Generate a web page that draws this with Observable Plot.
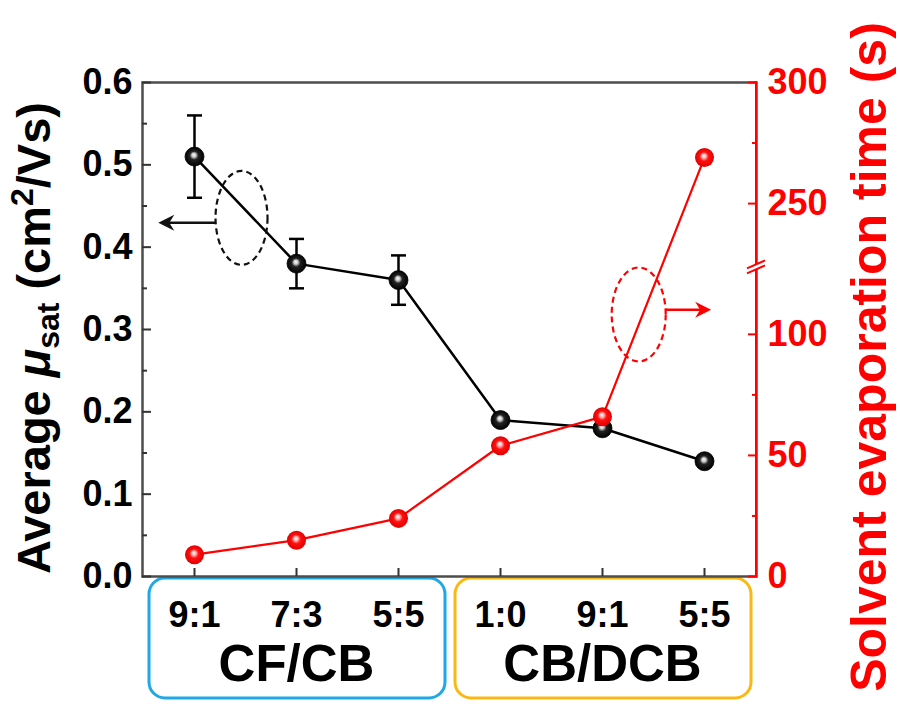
<!DOCTYPE html>
<html><head><meta charset="utf-8">
<script src="https://cdn.jsdelivr.net/npm/d3@7"></script>
<script src="https://cdn.jsdelivr.net/npm/@observablehq/plot@0.6"></script>
<style>
body{margin:0;background:#fff;}
#wrap{position:relative;width:900px;height:711px;overflow:hidden;background:#fff;}
#wrap svg{position:absolute;left:0;top:0;}
</style></head><body><div id="wrap"></div>
<script>
// ---- data ----
const ratios = ["9:1","7:3","5:5","1:0","9:1","5:5"];
const solvents = ["CF/CB","CF/CB","CF/CB","CB/DCB","CB/DCB","CB/DCB"];
const mobility = [0.51,0.38,0.36,0.19,0.18,0.14];
const mobilityErr = [0.05,0.03,0.03,0,0,0];
const evapTime = [9,15,24,54,66,269];
const leftTicks = [0,0.1,0.2,0.3,0.4,0.5,0.6];
const leftMinor = [0.05,0.15,0.25,0.35,0.45,0.55];
const rightTicks = [0,50,100,250,300];
const rightMinor = [25,75,275];
const breakLow = 127, breakHigh = 223, timeMax = 300;
const groupNames = ["CF/CB","CB/DCB"];
const groupColors = ["#1fa8e4","#fbb812"];

// ---- layout ----
const W = 900, H = 711, mT = 82, mB = 135, mL = 142, mR = 144;
const FONT = "'Liberation Sans', Arial, Helvetica, sans-serif";

const cats = ratios.map((r,i) => `${solvents[i]} ${r}`);
const rows = cats.map((c,i) => ({cat:c, ratio:ratios[i], solvent:solvents[i], mu:mobility[i], err:mobilityErr[i], t:evapTime[i]}));
const errRows = rows.filter(d => d.err > 0);
const groups = groupNames.map(g => {
  const cs = cats.filter((c,i) => solvents[i] === g);
  return {name:g, first:cs[0], last:cs[cs.length-1], mid:cs[Math.floor(cs.length/2)]};
});
const capSymbol = {draw(ctx, size){ const r = Math.sqrt(size/Math.PI); ctx.moveTo(-r,0); ctx.lineTo(r,0); }};

const base = {width:W, height:H, marginTop:mT, marginBottom:mB, marginLeft:mL, marginRight:mR,
  x:{type:"point", domain:cats, padding:0.5, axis:null}};

// ---- black (mobility) plot ----
const plotA = Plot.plot({
  ...base,
  y:{domain:[0,0.6], axis:null},
  style:{fontFamily:FONT, fontWeight:"bold", background:"white", color:"black", overflow:"visible"},
  marks:[
    Plot.frame({stroke:"#4d4d4d", strokeWidth:2.5}),
    Plot.axisY({ticks:leftTicks, tickSize:0, tickPadding:10, fontSize:36, tickFormat:d3.format(".1f"), label:null, color:"black"}),
    Plot.axisY({ticks:leftTicks, tickSize:9, dx:9, tickFormat:()=>"", label:null, color:"#333", strokeWidth:2}),
    Plot.axisY({ticks:leftMinor, tickSize:5, dx:5, tickFormat:()=>"", label:null, color:"#333", strokeWidth:2}),
    Plot.axisX({tickSize:0, tickPadding:25, fontSize:36, tickFormat:d => d.split(" ")[1], label:null, color:"black"}),
    Plot.axisX({tickSize:8, dy:-8, tickFormat:()=>"", label:null, color:"#333", strokeWidth:2}),
    Plot.ruleX(errRows, {x:"cat", y1:d => d.mu - d.err, y2:d => d.mu + d.err, stroke:"#000", strokeWidth:2.5}),
    Plot.dot(errRows, {x:"cat", y:d => d.mu + d.err, symbol:capSymbol, r:7.5, stroke:"#000", strokeWidth:2.5}),
    Plot.dot(errRows, {x:"cat", y:d => d.mu - d.err, symbol:capSymbol, r:7.5, stroke:"#000", strokeWidth:2.5}),
    Plot.line(rows, {x:"cat", y:"mu", stroke:"#000", strokeWidth:2.5}),
    Plot.dot(rows, {x:"cat", y:"mu", r:9.5, fill:"url(#ballK)", stroke:"#000", strokeWidth:0.8}),
    Plot.text(groups, {x:"mid", text:"name", frameAnchor:"bottom", dy:88, fontSize:51, fontWeight:"bold", lineAnchor:"middle", fill:"black"})
  ]
});

// ---- red (evaporation time) plot, broken axis as piecewise scale ----
const plotH = H - mT - mB;
const k = plotH / ((breakLow - 0) + (timeMax - breakHigh));
const breakPx = (H - mB) - breakLow * k;
const plotB = Plot.plot({
  ...base,
  y:{type:"linear", domain:[0, breakLow, breakHigh, timeMax], range:[H - mB, breakPx, breakPx, mT], axis:null},
  style:{fontFamily:FONT, fontWeight:"bold", background:"transparent", color:"red", overflow:"visible"},
  marks:[
    Plot.axisY({anchor:"right", ticks:rightTicks, tickSize:0, tickPadding:11, fontSize:36, label:null, color:"#ff0000"}),
    Plot.axisY({anchor:"right", ticks:rightTicks, tickSize:9, dx:-9, tickFormat:()=>"", label:null, color:"#ff0000", strokeWidth:2}),
    Plot.axisY({anchor:"right", ticks:rightMinor, tickSize:5, dx:-5, tickFormat:()=>"", label:null, color:"#ff0000", strokeWidth:2}),
    Plot.line(rows, {x:"cat", y:"t", stroke:"#ff0000", strokeWidth:2.2}),
    Plot.ruleY([breakLow], {x1:cats[4], x2:cats[5], stroke:"white", strokeWidth:6}),
    Plot.dot(rows, {x:"cat", y:"t", r:9.5, fill:"url(#ballR)"})
  ]
});

const wrap = document.getElementById("wrap");
wrap.appendChild(plotA);
wrap.appendChild(plotB);

const svgA = d3.select(plotA), svgB = d3.select(plotB);
function addBall(svg, id, stops){
  let defs = svg.select("defs"); if (defs.empty()) defs = svg.insert("defs", ":first-child");
  const g = defs.append("radialGradient").attr("id", id).attr("cx","50%").attr("cy","50%").attr("r","50%").attr("fx","46%").attr("fy","40%");
  stops.forEach(([o,c]) => g.append("stop").attr("offset", o).attr("stop-color", c));
}
addBall(svgA, "ballK", [["0%","#ffffff"],["22%","#c8c8c8"],["45%","#222"],["100%","#000"]]);
addBall(svgB, "ballR", [["0%","#ffffff"],["22%","#ffb3b3"],["48%","#ff1010"],["100%","#e00000"]]);

const xA = plotA.scale("x"), yA = plotA.scale("y"), yB = plotB.scale("y");
const step = xA.apply(cats[1]) - xA.apply(cats[0]);
const xAt = idx => xA.apply(cats[0]) + idx * step;
const [xLeft, xRight] = xA.range;

// red right-axis line with break marks
svgB.append("line").attr("x1", xRight).attr("x2", xRight).attr("y1", mT - 1).attr("y2", H - mB + 1)
  .attr("stroke", "#ff0000").attr("stroke-width", 2);
const by = yB.apply(breakLow);
svgB.append("path").attr("d", `M${xRight-8},${by+5}L${xRight+8},${by-3}L${xRight+8},${by-8}L${xRight-8},${by}Z`).attr("fill","white");
[[0],[5]].forEach(([o]) => svgB.append("line")
  .attr("x1", xRight-9).attr("y1", by+o).attr("x2", xRight+9).attr("y2", by+o-8)
  .attr("stroke","#ff0000").attr("stroke-width",2));

// annotation ellipses + arrows (anchored in data units)
const annBlack = {at:0.466, y:0.435, rx:26, ry:47, arrowY:0.429, arrowTo:-0.35, dir:-1, color:"#111", ys:yA, svg:svgA};
const annRed = {at:4.36, y:108, rx:27, ry:47, arrowY:110, arrowTo:5.07, dir:1, color:"#ff0000", ys:yB, svg:svgB};
[annBlack, annRed].forEach(a => {
  const cx = xAt(a.at), cy = a.ys.apply(a.y), ay = a.ys.apply(a.arrowY), tip = xAt(a.arrowTo);
  const start = cx + a.dir * a.rx;
  a.svg.append("ellipse").attr("cx", cx).attr("cy", cy).attr("rx", a.rx).attr("ry", a.ry)
    .attr("fill","none").attr("stroke", a.color).attr("stroke-width", 2.2).attr("stroke-dasharray","6,4");
  a.svg.append("line").attr("x1", start).attr("x2", tip - a.dir * 6).attr("y1", ay).attr("y2", ay)
    .attr("stroke", a.color).attr("stroke-width", 2.5);
  const d = -a.dir;
  a.svg.append("path").attr("d", `M${tip},${ay}L${tip + d*16},${ay-8}L${tip + d*11},${ay}L${tip + d*16},${ay+8}Z`).attr("fill", a.color);
});

// group boxes
groups.forEach((g,i) => {
  const x1 = xA.apply(g.first) - 45, x2 = xA.apply(g.last) + 47;
  svgA.insert("rect", ":first-child").attr("x", x1).attr("y", H - mB + 2).attr("width", x2 - x1).attr("height", 120)
    .attr("rx", 16).attr("fill", "none").attr("stroke", groupColors[i]).attr("stroke-width", 3);
});

// axis titles
const tl = svgA.append("text").attr("transform", `translate(50,338) rotate(-90)`)
  .attr("text-anchor","middle").attr("font-size",47).attr("font-weight","bold").attr("fill","#000").attr("font-family", FONT);
tl.append("tspan").text("Average ");
tl.append("tspan").attr("font-style","italic").text("μ");
tl.append("tspan").attr("font-size",32).attr("dy",9).text("sat");
tl.append("tspan").attr("dy",-9).text(" (cm");
tl.append("tspan").attr("font-size",32).attr("dy",-17).text("2");
tl.append("tspan").attr("dy",17).text("/Vs)");

svgB.append("text").attr("transform", `translate(886,357) rotate(-90)`)
  .attr("text-anchor","middle").attr("font-size",50).attr("font-weight","bold").attr("fill","#ff0000").attr("font-family", FONT)
  .text("Solvent evaporation time (s)");
</script></body></html>
